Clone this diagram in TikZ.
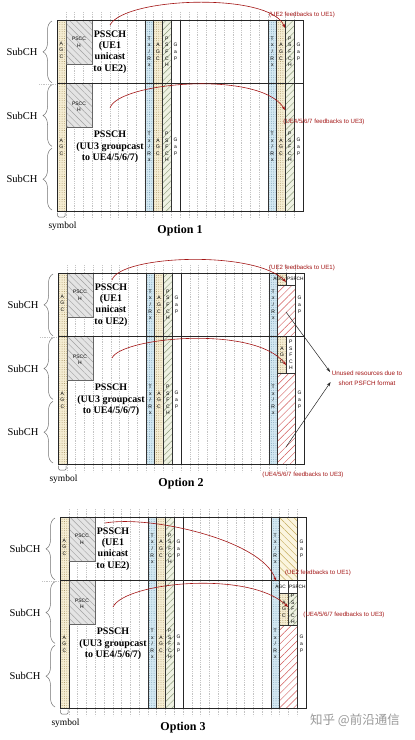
\documentclass[tikz,border=0pt]{standalone}
\usepackage{fontspec}
\setmainfont{Liberation Serif}
\setsansfont{Liberation Sans}
\newfontfamily\cjkfont{Noto Sans CJK SC}
\usetikzlibrary{patterns.meta,decorations.pathreplacing,arrows.meta}
\definecolor{trbg}{HTML}{D3E8F2}
\definecolor{trdot}{HTML}{6F94AC}
\definecolor{agcbg}{HTML}{F5EDD3}
\definecolor{agcdot}{HTML}{A08C58}
\definecolor{fchbg}{HTML}{EEF1E2}
\definecolor{fchln}{HTML}{8E9C7C}
\definecolor{pcbg}{HTML}{E4E4E4}
\definecolor{pcln}{HTML}{A0A0A0}
\definecolor{redln}{HTML}{D25A5A}
\definecolor{yelbg}{HTML}{FBF5DF}
\definecolor{yelln}{HTML}{C4AC5C}
\definecolor{darkred}{HTML}{A31515}
\definecolor{gridc}{HTML}{C4C4C4}
\def\symw{8.7857}
\def\shh{63.67}
\tikzset{
  frm/.style={draw=black!85, line width=0.6pt},
  gridl/.style={draw=gridc, line width=0.35pt, dash pattern=on 0.9pt off 0.9pt},
  trcol/.style={preaction={fill=trbg}, pattern={Dots[radius=0.42pt,distance=2.3pt]}, pattern color=trdot, draw=black!80, line width=0.5pt},
  agccol/.style={preaction={fill=agcbg}, pattern={Dots[radius=0.42pt,distance=2.3pt]}, pattern color=agcdot, draw=black!80, line width=0.5pt},
  fchcol/.style={preaction={fill=fchbg}, pattern={Lines[angle=45,distance=4.5pt,line width=0.45pt]}, pattern color=fchln, draw=black!80, line width=0.5pt},
  gapcol/.style={fill=white, draw=black!80, line width=0.5pt},
  pscch/.style={preaction={fill=pcbg}, pattern={Lines[angle=-45,distance=4.5pt,line width=0.45pt]}, pattern color=pcln, draw=black!60, line width=0.5pt},
  redh/.style={preaction={fill=white}, pattern={Lines[angle=45,distance=5pt,line width=0.45pt]}, pattern color=redln, draw=black!80, line width=0.5pt},
  yelh/.style={preaction={fill=yelbg}, pattern={Lines[angle=-45,distance=5pt,line width=0.45pt]}, pattern color=yelln, draw=black!80, line width=0.5pt},
  plainbox/.style={fill=white, draw=black!80, line width=0.5pt},
  vlet/.style={font=\sffamily\fontsize{5}{6.6}\selectfont, align=center, inner sep=0pt},
  hlet/.style={font=\sffamily\fontsize{4.8}{5}\selectfont, inner sep=0pt},
  subch/.style={font=\fontsize{10.5}{12}\selectfont, inner sep=0pt},
  psschtxt/.style={font=\bfseries\fontsize{10}{11.3}\selectfont, align=center, inner sep=0pt},
  opttxt/.style={font=\bfseries\fontsize{12}{14}\selectfont, inner sep=0pt},
  symtxt/.style={font=\fontsize{9.5}{11}\selectfont, inner sep=0pt},
  fbtxt/.style={font=\sffamily\fontsize{6.1}{7}\selectfont, text=darkred, inner sep=0pt},
  unusedtxt/.style={font=\sffamily\fontsize{6.3}{9.5}\selectfont, text=darkred, align=center, inner sep=0pt},
  fbarrow/.style={draw=darkred, line width=0.6pt, -{Stealth[length=4pt,width=3pt]}},
  blkarrow/.style={draw=black!85, line width=0.5pt, -{Stealth[length=4.5pt,width=3pt]}},
  bracel/.style={draw=black!55, line width=0.5pt, decorate, decoration={brace, amplitude=9pt}},
}
\newcommand\colrect[4]{\path[#1] ({#2*\symw},#3) rectangle ({(#2+1)*\symw},#4);}
\newcommand\vtext[4]{\node[vlet] (#1) at ({(#2+0.5)*\symw},#3) {#4};}
\newcommand\basepanel{%
  \foreach \i in {1,...,27} {\draw[gridl] ({\i*\symw},-8) -- ({\i*\symw},199);}
  \draw[gridl] (-18,\shh) -- (0,\shh);
  \colrect{agccol}{0}{0}{191}
  \path[pscch] (\symw,0) rectangle ({4*\symw},44);
  \path[pscch] (\symw,\shh) rectangle ({4*\symw},{\shh+44});
  \colrect{trcol}{10}{0}{191}
  \colrect{agccol}{11}{0}{191}
  \colrect{fchcol}{12}{0}{191}
  \colrect{gapcol}{13}{0}{191}
  \colrect{trcol}{24}{0}{191}
  \colrect{gapcol}{27}{0}{191}
}
\newcommand\finishpanel[2]{%
  \draw[frm] (0,0) rectangle ({28*\symw},191);
  \draw[frm] (0,\shh) -- ({28*\symw},\shh);
  \draw[frm] ({14*\symw},0) -- ({14*\symw},191);
  \vtext{#1ag0a}{0}{30}{A\\G\\C}
  \vtext{#1ag0b}{0}{127}{A\\G\\C}
  \vtext{#1tr10a}{10}{31.8}{T\\x\\/\\R\\x}
  \vtext{#1tr10b}{10}{127}{T\\x\\/\\R\\x}
  \vtext{#1ag11a}{11}{31.8}{A\\G\\C}
  \vtext{#1ag11b}{11}{127}{A\\G\\C}
  \vtext{#1fc12a}{12}{31.8}{P\\S\\F\\C\\H}
  \vtext{#1fc12b}{12}{127}{P\\S\\F\\C\\H}
  \vtext{#1gp13a}{13}{31.8}{G\\a\\p}
  \vtext{#1gp13b}{13}{127}{G\\a\\p}
  \vtext{#1tr24a}{24}{31.8}{T\\x\\/\\R\\x}
  \vtext{#1tr24b}{24}{127}{T\\x\\/\\R\\x}
  \vtext{#1gp27a}{27}{31.8}{G\\a\\p}
  \vtext{#1gp27b}{27}{127}{G\\a\\p}
  \node[vlet] (#1pc1) at ({2.5*\symw},22) {PSCC\\H};
  \node[vlet] (#1pc2) at ({2.5*\symw},{\shh+23}) {PSCC\\H};
  \node[psschtxt] (#1ps1) at (53,32) {PSSCH\\(UE1\\unicast\\to UE2)};
  \node[psschtxt] (#1ps2) at (53,127) {PSSCH\\(UU3 groupcast\\to UE4/5/6/7)};
  \draw[bracel] (-5,{\shh-1}) -- (-5,1);
  \draw[bracel] (-5,{2*\shh-1}) -- (-5,{\shh+1});
  \draw[bracel] (-5,190) -- (-5,{2*\shh+1});
  \node[subch] (#1sc1) at (-35,31.8) {SubCH};
  \node[subch] (#1sc2) at (-35,95.5) {SubCH};
  \node[subch] (#1sc3) at (-35,159) {SubCH};
  \draw[black!60, line width=0.5pt, rounded corners=1.2pt] (0.6,192.5) -- (0.6,197) -- ({\symw-0.6},197) -- ({\symw-0.6},192.5);
  \node[symtxt] (#1sym) at (5.5,206) {symbol};
  \node[opttxt] (#1opt) at (123,211) {Option #2};
}
\begin{document}
\begin{tikzpicture}[x=1pt,y=-1pt]
\path[use as bounding box, fill=white] (0,0) rectangle (415,740);

% ---------- Option 1 ----------
\begin{scope}[shift={(57,20)}]
  \basepanel
  \colrect{agccol}{25}{0}{191}
  \colrect{fchcol}{26}{0}{191}
  \finishpanel{a}{1}
  \vtext{aag25a}{25}{31.8}{A\\G\\C}
  \vtext{aag25b}{25}{127}{A\\G\\C}
  \vtext{afc26a}{26}{31.8}{P\\S\\F\\C\\H}
  \vtext{afc26b}{26}{127}{P\\S\\F\\C\\H}
\end{scope}

% ---------- Option 2 ----------
\begin{scope}[shift={(58,273)}]
  \basepanel
  \path[agccol] ({25*\symw},0) rectangle ({26*\symw},12);
  \path[plainbox] ({26*\symw},0) rectangle ({27*\symw},12);
  \path[redh] ({25*\symw},12) rectangle ({27*\symw},\shh);
  \path[agccol] ({25*\symw},\shh) rectangle ({26*\symw},100);
  \path[plainbox] ({26*\symw},\shh) rectangle ({27*\symw},100);
  \path[redh] ({25*\symw},100) rectangle ({27*\symw},191);
  \finishpanel{b}{2}
  \node[hlet] (bagh) at ({25*\symw+1},6) {AGC};
  \node[hlet, anchor=west] (bpsh) at ({26*\symw+0.6},6) {PSFCH};
  \vtext{bag25}{25}{82}{A\\G\\C}
  \vtext{bfc26}{26}{82}{P\\S\\F\\C\\H}
\end{scope}

% ---------- Option 3 ----------
\begin{scope}[shift={(60,517)}]
  \basepanel
  \path[yelh] ({25*\symw},0) rectangle ({27*\symw},\shh);
  \path[plainbox] ({25*\symw},\shh) rectangle ({26*\symw},{\shh+13});
  \path[plainbox] ({26*\symw},\shh) rectangle ({27*\symw},{\shh+13});
  \path[agccol] ({25*\symw},{\shh+13}) rectangle ({26*\symw},108);
  \path[fchcol] ({26*\symw},{\shh+13}) rectangle ({27*\symw},108);
  \path[redh] ({25*\symw},108) rectangle ({27*\symw},191);
  \finishpanel{c}{3}
  \node[hlet] (cagh) at ({25*\symw+1},{\shh+6.5}) {AGC};
  \node[hlet, anchor=west] (cpsh) at ({26*\symw+0.6},{\shh+6.5}) {PSFCH};
  \vtext{cag25}{25}{92}{A\\G\\C}
  \vtext{cfc26}{26}{92}{P\\S\\F\\C\\H}
\end{scope}

% ---------- feedback arrows ----------
\coordinate (s1a) at (110,25);  \coordinate (e1a) at (285,28);
\coordinate (s1b) at (110,108); \coordinate (e1b) at (285,110);
\coordinate (s2a) at (112,280); \coordinate (e2a) at (286,282);
\coordinate (s2b) at (112,358); \coordinate (e2b) at (286,365);
\coordinate (s3a) at (105,523); \coordinate (e3a) at (276,581);
\coordinate (s3b) at (113,607); \coordinate (e3b) at (288,607);
\draw[fbarrow] (s1a) .. controls (125,-3) and (270,-8) .. (e1a);
\draw[fbarrow] (s1b) .. controls (118,82) and (260,70) .. (e1b);
\draw[fbarrow] (s2a) .. controls (120,255) and (255,250) .. (e2a);
\draw[fbarrow] (s2b) .. controls (122,337) and (255,325) .. (e2b);
\draw[fbarrow] (s3a) .. controls (150,515) and (262,540) .. (e3a);
\draw[fbarrow] (s3b) .. controls (125,582) and (250,570) .. (e3b);

\node[fbtxt] (f1a) at (302,15) {(UE2 feedbacks to UE1)};
\node[fbtxt] (f1b) at (324,122) {(UE4/5/6/7 feedbacks to UE3)};
\node[fbtxt] (f2a) at (302,268) {(UE2 feedbacks to UE1)};
\node[fbtxt] (f2b) at (303,475) {(UE4/5/6/7 feedbacks to UE3)};
\node[fbtxt] (f3a) at (318,573) {(UE2 feedbacks to UE1)};
\node[fbtxt] (f3b) at (344,615) {(UE4/5/6/7 feedbacks to UE3)};

% ---------- unused resources ----------
\node[unusedtxt] (unused) at (367,378) {Unused resources due to\\short PSFCH format};
\coordinate (u1) at (286,312);
\coordinate (u2) at (286,447);
\draw[blkarrow] (u1) -- ([xshift=-1.5pt,yshift=6pt]unused.west);
\draw[blkarrow] (u2) -- ([xshift=-1pt,yshift=-4pt]unused.west);

% ---------- watermark ----------
\node[font=\cjkfont\fontsize{12.5}{14}\selectfont, text=black!40, inner sep=0pt] (wm) at (355,720) {知乎 @前沿通信};
\end{tikzpicture}
\end{document}
